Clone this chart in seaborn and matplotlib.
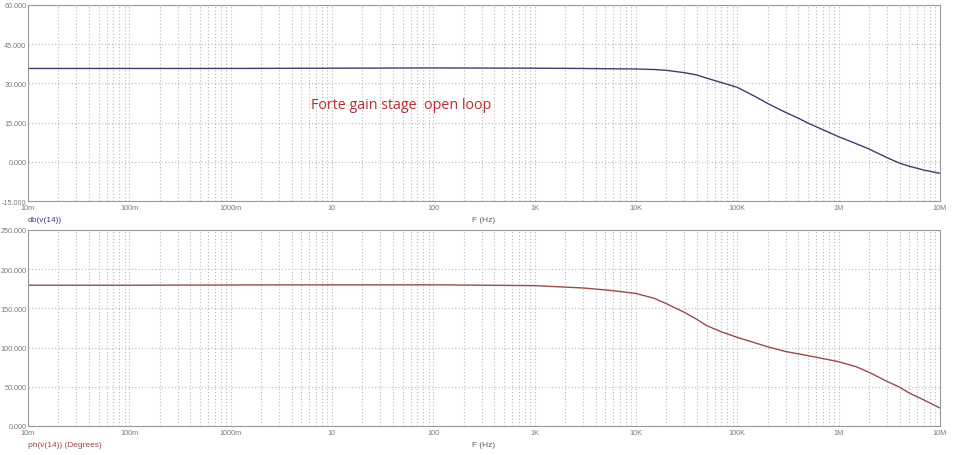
import matplotlib
matplotlib.use("Agg")
import matplotlib.pyplot as plt
import matplotlib.ticker as mticker
import numpy as np
import pandas as pd
import seaborn as sns

# Bode plot data
freq_hz = [0.01, 0.1, 1, 10, 100, 1000, 3000, 5000, 7000, 10000, 15000, 20000,
           30000, 40000, 50000, 70000, 100000, 150000, 200000, 300000, 400000,
           500000, 700000, 1e6, 1.5e6, 2e6, 3e6, 4e6, 5e6, 7e6, 1e7]
gain_db = [35.7, 35.7, 35.7, 35.8, 35.9, 35.8, 35.7, 35.6, 35.55, 35.5, 35.3, 35.0,
           34.1, 33.2, 32.0, 30.3, 28.5, 25.0, 22.3, 18.9, 16.7,
           14.8, 12.3, 9.6, 6.9, 4.9, 1.6, -0.5, -1.7, -3.2, -4.4]
phase_deg = [179.5, 179.5, 179.8, 180.0, 180.0, 179.0, 176.0, 173.5, 171.5, 169.0, 163.0, 156.0,
             145.0, 136.0, 128.0, 120.0, 113.0, 106.0, 101.0, 95.0, 92.0,
             89.7, 86.0, 82.0, 75.5, 68.5, 57.0, 49.5, 42.0, 33.0, 23.0]

x_ticks = [0.01, 0.1, 1, 10, 100, 1000, 1e4, 1e5, 1e6, 1e7]
x_tick_labels = ["10m", "100m", "1000m", "10", "100", "1K", "10K", "100K", "1M", "10M"]
gain_ticks = [-15, 0, 15, 30, 45, 60]
phase_ticks = [0, 50, 100, 150, 200, 250]

df = pd.DataFrame({"freq": freq_hz, "gain": gain_db, "phase": phase_deg})

sns.set_theme(style="white")
plt.rcParams['font.family'] = ['Liberation Sans Narrow', 'Liberation Sans', 'DejaVu Sans']

fig = plt.figure(figsize=(9.6, 4.56), dpi=100)
ax1 = fig.add_axes([0.029, 0.557, 0.950, 0.430])
ax2 = fig.add_axes([0.029, 0.0636, 0.950, 0.430])

grid_col = '#b8b8b8'
tick_col = '#7a7a7a'


def style_axis(ax, yticks):
    ax.set_xscale('log')
    ax.set_xlim(0.01, 1e7)
    ax.set_ylim(yticks[0], yticks[-1])
    ax.set_xticks(x_ticks)
    ax.set_xticklabels(x_tick_labels)
    ax.xaxis.set_minor_locator(mticker.LogLocator(base=10, subs=np.arange(2, 10), numticks=20))
    ax.xaxis.set_minor_formatter(mticker.NullFormatter())
    ax.set_yticks(yticks)
    ax.set_yticklabels(["%.3f" % v for v in yticks])
    ax.grid(True, which='major', color=grid_col, linestyle=(0, (1, 2)), linewidth=0.8)
    ax.grid(True, which='minor', axis='x', color=grid_col, linestyle=(0, (1, 2)), linewidth=0.8)
    ax.tick_params(axis='both', which='both', length=0, labelsize=5.2, labelcolor=tick_col)
    ax.tick_params(axis='y', pad=1)
    ax.tick_params(axis='x', pad=2)
    for sp in ax.spines.values():
        sp.set_color('#9a9a9a')
        sp.set_linewidth(0.8)
    ax.set_xlabel("F (Hz)", fontsize=6, color='#606060', labelpad=4)
    ax.set_ylabel("")


sns.lineplot(data=df, x="freq", y="gain", ax=ax1, color='#3b3f6e', linewidth=1.0)
style_axis(ax1, gain_ticks)
sns.lineplot(data=df, x="freq", y="phase", ax=ax2, color='#9a4a4a', linewidth=1.0)
style_axis(ax2, phase_ticks)

# trace names under the x axis
ax1.text(0.0, -0.075, "db(v(14))", transform=ax1.transAxes, fontsize=6,
         color='#3b3f8e', ha='left', va='top')
ax2.text(0.0, -0.075, "ph(v(14)) (Degrees)", transform=ax2.transAxes, fontsize=6,
         color='#a04848', ha='left', va='top')

ax1.text(0.311, 0.49, "Forte gain stage  open loop", transform=ax1.transAxes,
         fontsize=10.3, color='#c0282d', family=['Open Sans', 'DejaVu Sans'],
         ha='left', va='center')

fig.savefig("out.png", dpi=100)
